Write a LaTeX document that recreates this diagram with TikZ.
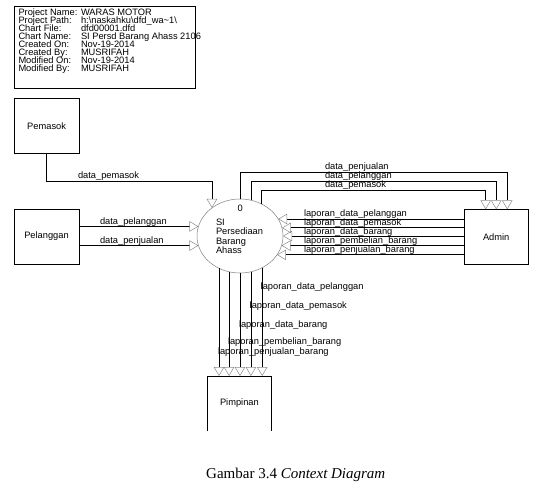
\documentclass[tikz,border=0pt]{standalone}
\usepackage{fontspec}
\setmainfont{Liberation Sans}
\newfontfamily\capfont{Liberation Serif}
\usetikzlibrary{arrows.meta,shapes.geometric}
\begin{document}
\begin{tikzpicture}[x=1pt,y=-1pt,
  txt/.style={inner sep=0pt, outer sep=0pt, font=\fontsize{9.3}{9.3}\selectfont, anchor=base west},
  ent/.style={draw, line width=0.9pt, minimum width=65pt, minimum height=55pt, inner sep=0pt, outer sep=0pt, font=\fontsize{9.3}{9.3}\selectfont},
  flow/.style={line width=0.8pt, -{Triangle[open, length=9pt, width=10.5pt, color=gray!90, line width=0.5pt]}},
  proc/.style={ellipse, draw=gray, line width=0.5pt, minimum width=86pt, minimum height=74pt, inner sep=0pt, outer sep=0pt}
]
\useasboundingbox[fill=white] (0,0) rectangle (544,493);

% info box
\node[draw, line width=0.8pt, minimum width=181pt, minimum height=82pt, inner sep=0pt, outer sep=0pt] (info) at (104.5,47) {};
\foreach \l/\v [count=\i from 0] in {Project Name:/WARAS MOTOR, Project Path:/{h:\textbackslash naskahku\textbackslash dfd\_wa\textasciitilde 1\textbackslash}, Chart File:/dfd00001.dfd, Chart Name:/SI Persd Barang Ahass 2106, Created On:/Nov-19-2014, Created By:/MUSRIFAH, Modified On:/Nov-19-2014, Modified By:/MUSRIFAH}{
  \node[txt] (infol\i) at (18.5,15+8*\i) {\l};
  \node[txt] (infov\i) at (81,15+8*\i) {\v};
}

% entities
\node[ent] (pem) at (46.6,126) {Pemasok};
\node[ent] (pel) at (46.5,236.5) {Pelanggan};
\node[ent, minimum width=64.3pt, minimum height=54.7pt] (adm) at (496.2,236.7) {Admin};
\node[ent, draw=none, minimum width=64.2pt] (pim) at (239.4,403.5) {Pimpinan};
\draw[line width=0.9pt] (pim.south west) -- (pim.north west) -- (pim.north east) -- (pim.south east);

% process
\node[proc] (circ) at (240,236) {};
\node[txt] (pnum) at (237.5,211) {0};
\node[txt] (pt1) at (216,225) {SI};
\node[txt] (pt2) at (216,234.5) {Persediaan};
\node[txt] (pt3) at (216,244) {Barang};
\node[txt] (pt4) at (216,253) {Ahass};

% Pemasok -> process
\coordinate (k1) at (circ.135.4 |- 0,181);
\draw[flow] (pem.south) |- (k1) -- (circ.135.4);
\node[txt] (l1) at (78,178.5) {data\_pemasok};

% Pelanggan -> process
\draw[flow] (circ.167.4 -| pel.east) -- (circ.167.4);
\draw[flow] (circ.193.6 -| pel.east) -- (circ.193.6);
\node[txt] (l2) at (100,224) {data\_pelanggan};
\node[txt] (l3) at (100,243.3) {data\_penjualan};

% process -> Admin (top)
\coordinate (t1) at ([xshift=11pt]adm.north);
\coordinate (t2) at (adm.north);
\coordinate (t3) at ([xshift=-10.5pt]adm.north);
\draw[flow] (circ.90) |- (t1 |- 0,172.3) -- (t1);
\draw[flow] (circ.73.7) |- (t2 |- 0,181.7) -- (t2);
\draw[flow] (circ.56.1) |- (t3 |- 0,190.7) -- (t3);
\node[txt] (l4) at (325,169.3) {data\_penjualan};
\node[txt] (l5) at (325,178.7) {data\_pelanggan};
\node[txt] (l6) at (325,187.7) {data\_pemasok};

% Admin -> process
\foreach \a in {24.8,11.5,-0.7,-13.6,-27.2}
  \draw[flow] (circ.\a -| adm.west) -- (circ.\a);
\node[txt] (r1) at (304,216) {laporan\_data\_pelanggan};
\node[txt] (r2) at (304,225) {laporan\_data\_pemasok};
\node[txt] (r3) at (304,234) {laporan\_data\_barang};
\node[txt] (r4) at (304,243.5) {laporan\_pembelian\_barang};
\node[txt] (r5) at (304,252.5) {laporan\_penjualan\_barang};

% process -> Pimpinan
\foreach \a in {-123,-107.1,-90,-73.4,-55.8}
  \draw[flow] (circ.\a) -- (circ.\a |- pim.north);
\node[txt] (b1) at (260.7,289.7) {laporan\_data\_pelanggan};
\node[txt] (b2) at (249.7,308) {laporan\_data\_pemasok};
\node[txt] (b3) at (239,327) {laporan\_data\_barang};
\node[txt] (b4) at (228,344.7) {laporan\_pembelian\_barang};
\node[txt] (b5) at (218,354) {laporan\_penjualan\_barang};

% caption
\node[inner sep=0pt, anchor=base west, font=\capfont\fontsize{15}{15}\selectfont] (cap) at (206,478) {Gambar 3.4 \textit{Context Diagram}};
\end{tikzpicture}
\end{document}
